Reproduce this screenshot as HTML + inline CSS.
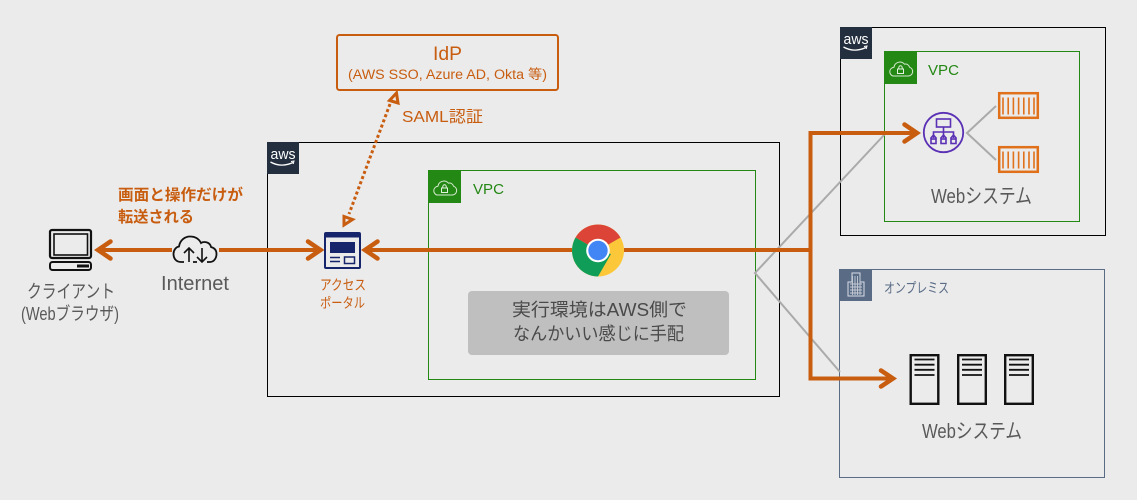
<!DOCTYPE html>
<html><head><meta charset="utf-8"><style>
html,body{margin:0;padding:0;background:#ebebeb}
svg{display:block}
text{font-family:"Liberation Sans","Noto Sans CJK JP",sans-serif}
</style></head><body>
<svg xmlns="http://www.w3.org/2000/svg" width="1137" height="500" viewBox="0 0 1137 500">
<defs>
<g id="aws"><rect width="32" height="32" fill="#232f3e"/>
<text x="16" y="17" font-size="15" fill="#fff" text-anchor="middle" textLength="25" lengthAdjust="spacingAndGlyphs">aws</text>
<path d="M3.500 20 Q14 26 26 20.500" fill="none" stroke="#fff" stroke-width="1.300"/><path d="M24 19.500l3-.5-.8 3" fill="none" stroke="#fff" stroke-width="1"/></g>
<g id="vpc"><rect width="33" height="33" fill="#248814"/>
<path d="M9 25h15a4.500 4.500 0 0 0 1.500-8.800a4 4 0 0 0-5-3a6 6 0 0 0-10.500 3a4.500 4.500 0 0 0-1 8.800z" fill="none" stroke="#d5ead0" stroke-width="1"/>
<rect x="13.500" y="18" width="6" height="4.500" fill="none" stroke="#e4f1e1" stroke-width="1"/><path d="M14.800 18v-1.500a1.700 1.700 0 0 1 3.400 0v1.500" fill="none" stroke="#e4f1e1"/></g>
<g id="container"><rect x="1.200" y="1.200" width="38.600" height="24.600" fill="none" stroke="#e0701a" stroke-width="2.500"/>
<path d="M5 5.500v17M10.200 5.500v17M15.400 5.500v17M20.600 5.500v17M25.800 5.500v17M31 5.500v17M36 5.500v17" stroke="#e0701a" stroke-width="1.600"/></g>
<g id="srv"><rect x="1.200" y="1.200" width="27.600" height="48.600" fill="#ebebeb" stroke="#111" stroke-width="2.400"/>
<path d="M5 5.500h20M5 10.700h20M5 15.800h20M5 21h20" stroke="#111" stroke-width="1.800"/></g>
</defs>
<rect width="1137" height="500" fill="#ebebeb"/>

<!-- containers -->
<rect x="267.500" y="142.500" width="512" height="254" fill="none" stroke="#000"/>
<rect x="428.500" y="170.500" width="327" height="209" fill="none" stroke="#248814"/>
<rect x="840.500" y="27.500" width="265" height="208" fill="none" stroke="#000"/>
<rect x="884.500" y="51.500" width="195" height="170" fill="none" stroke="#248814"/>
<rect x="839.500" y="269.500" width="265" height="208" fill="none" stroke="#5a6b86"/>

<use href="#aws" x="267" y="142"/>
<use href="#aws" x="840" y="27"/>
<use href="#vpc" x="428" y="170"/>
<use href="#vpc" x="884" y="51"/>

<text x="473" y="194" font-size="15" fill="#248814" textLength="31" lengthAdjust="spacingAndGlyphs">VPC</text>
<text x="928" y="75" font-size="15" fill="#248814" textLength="31" lengthAdjust="spacingAndGlyphs">VPC</text>

<!-- on-prem tag -->
<rect x="840" y="270" width="32" height="31" fill="#5a6b86"/>
<path d="M852 282v-9h8v9h4v14h-16v-14z" fill="none" stroke="#d8dde5" stroke-width="1"/>
<path d="M850 284h12M850 287h12M850 290h12M850 293h12M852.500 276v19M855 276v19M857.500 276v19M860 276v19" stroke="#c5ccd6" stroke-width=".9"/>
<text x="884" y="293" font-size="14" fill="#5a6b86" textLength="65" lengthAdjust="spacingAndGlyphs">オンプレミス</text>

<!-- grey lines -->
<path d="M885 134L755 273L840 372" fill="none" stroke="#aaa" stroke-width="2"/>
<path d="M996 106L967 133L996 160" fill="none" stroke="#aaa" stroke-width="2"/>

<!-- orange lines -->
<g fill="none" stroke="#c85d10" stroke-width="4">
<path d="M99 250H172M219 250H320"/>
<path d="M366 250H572M624 250H810.500"/>
<path d="M917 133H810.500V378.500H893"/>
</g>
<g fill="none" stroke="#c85d10" stroke-width="4.500" stroke-linecap="round">
<path d="M110.500 241.500L98 250L110.500 258.500"/>
<path d="M308 241.500L320.500 250L308 258.500"/>
<path d="M377.500 241.500L365 250L377.500 258.500"/>
<path d="M904.500 124.500L917 133L904.500 141.500"/>
<path d="M881 370.500L893 378.500L881 386.500"/>
</g>

<!-- dotted -->
<path d="M390 104L349 214" fill="none" stroke="#c85d10" stroke-width="3" stroke-dasharray="3 2.500"/>
<path d="M396.500 93L389.500 100.500L398 103z" fill="#ebebeb" stroke="#c85d10" stroke-width="3"/>
<path d="M344 225L352.500 219.500L344 216.500z" fill="#ebebeb" stroke="#c85d10" stroke-width="3"/>

<!-- IdP -->
<rect x="337" y="35" width="221" height="55" rx="2.500" fill="none" stroke="#c85d10" stroke-width="2"/>
<text x="447.500" y="60" font-size="19" fill="#c85d10" text-anchor="middle" textLength="29" lengthAdjust="spacingAndGlyphs">IdP</text>
<text x="447.500" y="79" font-size="13.500" fill="#c85d10" text-anchor="middle" textLength="199" lengthAdjust="spacingAndGlyphs">(AWS SSO, Azure AD, Okta 等)</text>
<text x="402" y="122" font-size="16" fill="#c85d10" textLength="81" lengthAdjust="spacingAndGlyphs">SAML認証</text>

<!-- labels -->
<text x="118" y="200" font-size="15.500" font-weight="bold" fill="#c85d10" textLength="125" lengthAdjust="spacingAndGlyphs">画面と操作だけが</text>
<text x="118" y="222" font-size="15.500" font-weight="bold" fill="#c85d10" textLength="76" lengthAdjust="spacingAndGlyphs">転送される</text>

<!-- laptop -->
<rect x="50" y="230" width="41" height="28" rx="2" fill="none" stroke="#111" stroke-width="2.200"/>
<rect x="54" y="234" width="33.500" height="21" fill="none" stroke="#111" stroke-width="1.600"/>
<rect x="50" y="262" width="41" height="8" rx="2.500" fill="none" stroke="#111" stroke-width="2"/>
<rect x="77" y="264.500" width="12" height="3" fill="#111"/>
<text x="71" y="298" font-size="18.500" fill="#595959" text-anchor="middle" textLength="88" lengthAdjust="spacingAndGlyphs">クライアント</text>
<text x="70" y="320" font-size="18" fill="#595959" text-anchor="middle" textLength="98" lengthAdjust="spacingAndGlyphs">(Webブラウザ)</text>

<!-- cloud -->
<path d="M184 262H181C175 262 173.500 257 173.500 254C173.500 250 176 247 179 246.500C180 240 185 236.500 190 236.500C195 236.500 199 239 201 243C204 241 210 242 211 247C215 248 216.500 251 216.500 254C216.500 258 214 262 210 262H207M193 262H197" fill="none" stroke="#111" stroke-width="1.800"/>
<path d="M189 262V248M184 253L189 248L194 253M202 248V262M197 257L202 262L207 257" fill="none" stroke="#111" stroke-width="1.600"/>
<text x="195" y="290" font-size="20" fill="#595959" text-anchor="middle" textLength="68" lengthAdjust="spacingAndGlyphs">Internet</text>

<!-- portal -->
<rect x="324" y="232" width="37" height="37" rx="2" fill="#16256b"/>
<rect x="326" y="237.500" width="33" height="29.500" fill="#ebebeb"/>
<rect x="330" y="242" width="25" height="11" fill="#16256b"/>
<path d="M330 257.500h10M330 261.500h10" stroke="#16256b" stroke-width="1.500"/>
<rect x="344.500" y="257" width="10" height="6.500" fill="none" stroke="#16256b" stroke-width="1.500"/>
<text x="343" y="290" font-size="14" fill="#c85d10" text-anchor="middle" textLength="46" lengthAdjust="spacingAndGlyphs">アクセス</text>
<text x="342.500" y="308" font-size="14" fill="#c85d10" text-anchor="middle" textLength="45" lengthAdjust="spacingAndGlyphs">ポータル</text>

<!-- chrome -->
<circle cx="598" cy="250.500" r="26" fill="#fdc73a"/>
<path d="M598 250.500L575.500 237.500A26 26 0 0 1 620.500 237.500z" fill="#db4437"/>
<path d="M598 250.500L575.500 237.500A26 26 0 0 0 598 276.500L611 254z" fill="#0f9d58"/>
<circle cx="598" cy="250.500" r="11.800" fill="#fff"/>
<circle cx="598" cy="250.500" r="9.700" fill="#4285f4"/>

<!-- gray note -->
<rect x="468" y="291" width="261" height="64" rx="4" fill="#bfbfbf"/>
<text x="599.500" y="316" font-size="18" fill="#4a4a4a" text-anchor="middle" textLength="175" lengthAdjust="spacingAndGlyphs">実行環境はAWS側で</text>
<text x="598.500" y="340" font-size="18" fill="#4a4a4a" text-anchor="middle" textLength="171" lengthAdjust="spacingAndGlyphs">なんかいい感じに手配</text>

<!-- ALB -->
<circle cx="943.500" cy="132.500" r="19.700" fill="none" stroke="#5a30b5" stroke-width="1.800"/>
<g fill="none" stroke="#5a30b5" stroke-width="1.600">
<rect x="936.500" y="119" width="14" height="8"/>
<path d="M943.500 127v5M933.500 138v-6h20v6M943.500 132v6"/>
<rect x="931" y="139" width="5" height="4.500"/><rect x="941" y="139" width="5" height="4.500"/><rect x="951" y="139" width="5" height="4.500"/>
<path d="M933.500 135l-3 3.500M933.500 135l3 3.500M943.500 135l-3 3.500M943.500 135l3 3.500M953.500 135l-3 3.500M953.500 135l3 3.500"/>
</g>
<use href="#container" x="998" y="92"/>
<use href="#container" x="998" y="146"/>
<text x="981.500" y="203" font-size="20.500" fill="#595959" text-anchor="middle" textLength="101" lengthAdjust="spacingAndGlyphs">Webシステム</text>

<!-- servers -->
<use href="#srv" x="909.500" y="354"/>
<use href="#srv" x="957" y="354"/>
<use href="#srv" x="1004" y="354"/>
<text x="972" y="438" font-size="20.500" fill="#595959" text-anchor="middle" textLength="100" lengthAdjust="spacingAndGlyphs">Webシステム</text>
</svg>
</body></html>
